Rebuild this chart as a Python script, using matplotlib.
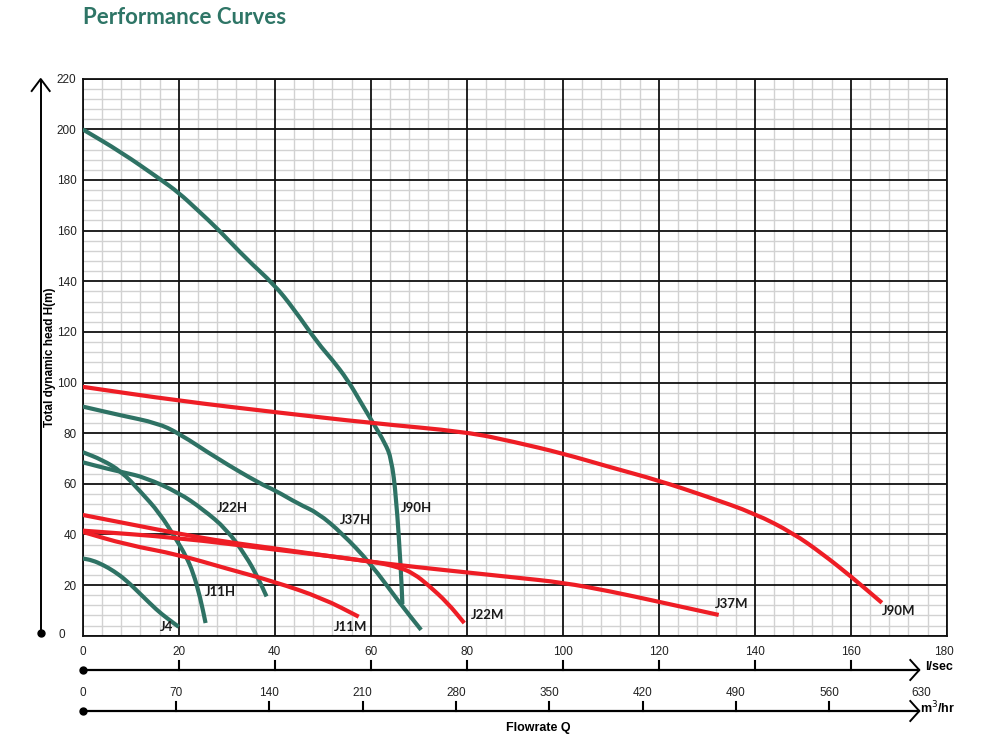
import numpy as np
import matplotlib
matplotlib.use("Agg")
import matplotlib.pyplot as plt
from matplotlib import transforms
from matplotlib.path import Path
from matplotlib.patches import PathPatch

# ---------------- data (flow in l/sec, head in m) ----------------
J4_q = [0, 2, 4.3, 6.5, 9, 12, 15.4, 17.5, 20]
J4_h = [30.5, 29.8, 27.9, 25.5, 22, 16.5, 10.2, 7, 3.5]

J11H_q = [0, 4, 8, 12, 16, 19.5, 21.5, 23, 24.5, 25.6]
J11H_h = [72.5, 69.5, 65, 57, 48.5, 38, 31.5, 25, 15, 5]

J22H_q = [0, 5, 8.5, 13, 20, 25, 30, 34, 36.5, 38.3]
J22H_h = [68.5, 66, 64.5, 62.5, 56.5, 50, 42, 31.5, 23, 15.5]

J37H_q = [0, 8, 15.5, 20, 28, 37, 40, 45, 49, 54, 60, 66, 70.5]
J37H_h = [90.5, 87, 84, 80, 70, 60, 57.5, 52, 48.5, 40.5, 28.5, 13, 2.3]

J90H_q = [0, 8, 16, 20, 24, 28.5, 34, 40, 44, 49, 52, 55.2, 58, 60.5, 63, 64.3, 65.3, 66.3, 66.6]
J90H_h = [200, 191, 180.5, 175, 168, 160, 149, 138.5, 129, 115.5, 109, 101, 92, 84, 76, 70, 55, 26, 12.5]

J11M_q = [0, 9, 20, 30, 40, 50, 57.5]
J11M_h = [41, 36, 32, 26.5, 21.3, 14.8, 7.5]

J22M_q = [0, 20, 40, 60, 66, 69, 72, 76, 79.5]
J22M_h = [41.5, 38.7, 34, 29.5, 27, 24.5, 20, 13, 5]

J37M_q = [0, 10, 20, 30, 40, 50, 60, 70, 80, 90, 100, 110, 120, 132.5]
J37M_h = [47.7, 44, 40.3, 37, 34.5, 31.8, 29.2, 27, 25, 23, 21, 17.5, 13.4, 8.2]

J90M_q = [0, 20, 40, 60, 80, 90, 100, 110, 120, 130, 140, 148, 154, 160, 166.5]
J90M_h = [98.3, 92.8, 88.3, 84, 80.5, 76.5, 72, 66.5, 61.3, 55, 48.3, 40.5, 32.5, 23.5, 13]

labels = ["J4", "J11H", "J22H", "J37H", "J90H", "J11M", "J22M", "J37M", "J90M"]
label_q = [17.5, 28.8, 31.1, 56.8, 69.6, 55.9, 84.3, 135.3, 169.9]
label_h = [3.5, 17.1, 50.4, 45.7, 50.4, 3.6, 8.2, 12.5, 9.9]

lsec_ticks = [20, 40, 60, 80, 100, 120, 140, 160]
lsec_labels = ["0", "20", "40", "60", "80", "100", "120", "140", "160", "180"]
m3_ticks = [70, 140, 210, 280, 350, 420, 490, 560]
m3_labels = ["0", "70", "140", "210", "280", "350", "420", "490", "560", "630"]
y_ticks = [0, 20, 40, 60, 80, 100, 120, 140, 160, 180, 200, 220]

TEAL = "#2E7264"
RED = "#EE1D25"

W, H = 992, 745
fig = plt.figure(figsize=(W / 100, H / 100), dpi=100)
L, R, T, B = 82.7, 946.7, 78.7, 635.7
ax = fig.add_axes([L / W, 1 - B / H, (R - L) / W, (B - T) / H])
ax.set_xlim(0, 180)
ax.set_ylim(0, 220)
ax.set_xticks([])
ax.set_yticks(y_ticks)
ax.tick_params(which="both", length=0)
ax.set_yticklabels([""] + [str(v) for v in y_ticks[1:]], fontsize=8.5,
                   family="Liberation Sans", color="#222222")
ax.tick_params(axis="y", pad=4.5)
for s in ax.spines.values():
    s.set_color("#111111")
    s.set_linewidth(1.3)
    s.set_zorder(2)

# grid: minor first, then major on top
minor_x = [v for v in np.arange(0, 181, 4) if v % 20]
minor_y = [v for v in np.arange(0, 221, 4) if v % 20]
ax.vlines(minor_x, 0, 220, color="#d2d2d2", lw=1.0, zorder=0.5)
ax.hlines(minor_y, 0, 180, color="#d2d2d2", lw=1.0, zorder=0.5)
ax.vlines(np.arange(0, 181, 20), 0, 220, color="#111111", lw=1.3, zorder=1)
ax.hlines(np.arange(0, 221, 20), 0, 180, color="#111111", lw=1.3, zorder=1)


def smooth_path(q, h):
    pts = np.column_stack([q, h]).astype(float)
    verts = [pts[0], (pts[0] + pts[1]) / 2]
    codes = [Path.MOVETO, Path.LINETO]
    for i in range(1, len(pts) - 1):
        verts += [pts[i], (pts[i] + pts[i + 1]) / 2]
        codes += [Path.CURVE3, Path.CURVE3]
    verts.append(pts[-1])
    codes.append(Path.LINETO)
    return Path(verts, codes)


lw = 3.0
teal_curves = [(J4_q, J4_h), (J11H_q, J11H_h), (J22H_q, J22H_h),
               (J37H_q, J37H_h), (J90H_q, J90H_h)]
red_curves = [(J11M_q, J11M_h), (J22M_q, J22M_h), (J37M_q, J37M_h),
              (J90M_q, J90M_h)]
for curves, col, z in [(teal_curves, TEAL, 3), (red_curves, RED, 4)]:
    for q, h in curves:
        ax.add_patch(PathPatch(smooth_path(q, h), fill=False, edgecolor=col,
                               lw=lw, capstyle="butt", joinstyle="round",
                               zorder=z))

for lab, q, h in zip(labels, label_q, label_h):
    ax.text(q, h, lab, ha="center", va="center", fontsize=9.5,
            fontweight="bold", family="Lato", color="#1a1a1a", zorder=5)

# title
fig.text(83 / W, 1 - 18 / H, "Performance Curves", fontsize=16,
         fontweight="bold", family="Lato", color="#2E7566",
         ha="left", va="center")


def fx(px):
    return px / W


def fy(py):
    return 1 - py / H


# y axis arrow
yax_x = 40.7
fig.add_artist(plt.Line2D([fx(yax_x)] * 2, [fy(633), fy(80)], color="black",
                          lw=1.4, transform=fig.transFigure))
fig.add_artist(plt.Line2D([fx(yax_x - 9), fx(yax_x), fx(yax_x + 9)],
                          [fy(91), fy(79), fy(91)], color="black", lw=1.4,
                          transform=fig.transFigure))
fig.add_artist(plt.Line2D([fx(yax_x)], [fy(633)], marker="o", ms=5,
                          color="black", transform=fig.transFigure))
fig.text(fx(62), fy(635), "0", fontsize=8.5, family="Liberation Sans",
         color="#222222", ha="center", va="center")
fig.text(fx(50), fy(357), "Total dynamic head H(m)", rotation=90,
         fontsize=8.5, fontweight="bold", family="Liberation Sans",
         ha="center", va="center")

# flow axes below
blend = transforms.blended_transform_factory(ax.transData, fig.transFigure)
tip_q = (919.3 - L) / ((R - L) / 180)


def flow_axis(py, tick_pos, lab_text, lab_pos, unit, unit_px, unit_py):
    fig.add_artist(plt.Line2D([0, tip_q], [fy(py), fy(py)], color="black",
                              lw=1.6, transform=blend))
    fig.add_artist(plt.Line2D([0], [fy(py)], marker="o", ms=5,
                              color="black", transform=blend))
    dq = 9 / ((R - L) / 180)
    fig.add_artist(plt.Line2D([tip_q - dq, tip_q, tip_q - dq],
                              [fy(py - 10), fy(py), fy(py + 10)],
                              color="black", lw=1.4, transform=blend))
    for tp in tick_pos:
        fig.add_artist(plt.Line2D([tp, tp], [fy(py), fy(py - 9)],
                                  color="black", lw=1.5, transform=blend))
    for t, p in zip(lab_text, lab_pos):
        fig.text(p, fy(py - 18), t, fontsize=8.5, family="Liberation Sans",
                 color="#222222", ha="center", va="center", transform=blend)
    fig.text(fx(unit_px), fy(unit_py), unit, fontsize=9,
             fontweight="bold", family="Liberation Sans", ha="left",
             va="center")


flow_axis(670, lsec_ticks, lsec_labels, [0] + lsec_ticks + [179.5],
          "l/sec", 925, 667)
m3_pos = [v / 3.6 for v in m3_ticks]
flow_axis(711, m3_pos, m3_labels, [0] + m3_pos + [174.7],
          "m$^3$/hr", 920.5, 708)

fig.text(fx(538), fy(727.7), "Flowrate Q", fontsize=9, fontweight="bold",
         family="Liberation Sans", ha="center", va="center")

fig.savefig("out.png", dpi=100)
